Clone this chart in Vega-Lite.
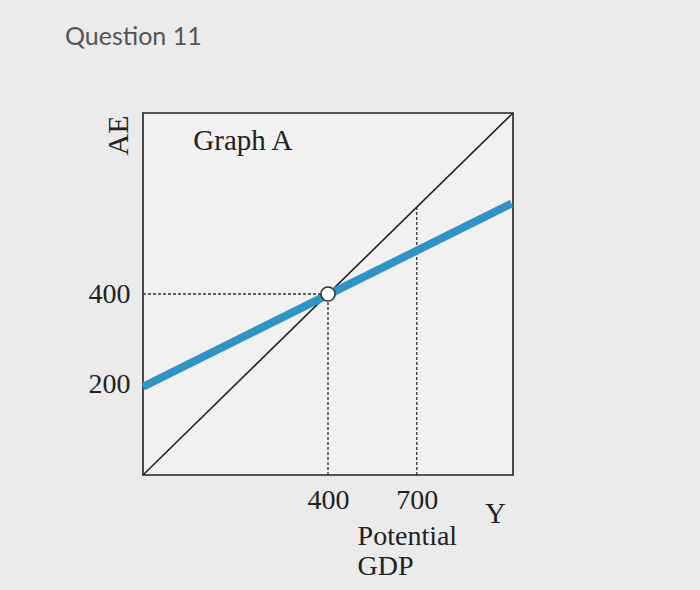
{
  "$schema": "https://vega.github.io/schema/vega-lite/v6.json",
  "autosize": "none",
  "width": 370,
  "height": 362,
  "padding": {"left": 143, "top": 113, "right": 187, "bottom": 115},
  "background": "#ebebeb",
  "title": {
    "text": "Question 11",
    "anchor": "start",
    "frame": "group",
    "dx": -78,
    "offset": 60,
    "font": "Lato",
    "fontSize": 25,
    "fontWeight": "normal",
    "color": "#555555"
  },
  "datasets": {
    "curves": [
      {"series": "45-degree", "x": -225, "y": 0},
      {"series": "45-degree", "x": 1025, "y": 800},
      {"series": "AE", "x": -225, "y": 195},
      {"series": "AE", "x": 1020, "y": 600}
    ],
    "guides": [
      {"x": -225, "y": 400, "x2": 400, "y2": 400},
      {"x": 400, "y": 0, "x2": 400, "y2": 400},
      {"x": 700, "y": 0, "x2": 700, "y2": 592}
    ],
    "equilibrium": [{"x": 400, "y": 400}],
    "notes": [
      {"x": -55, "y": 770, "label": "Graph A", "size": 29},
      {"x": 500, "y": -107, "label": "Potential\nGDP", "size": 28}
    ]
  },
  "layer": [
    {
      "data": {"name": "guides"},
      "mark": {"type": "rule", "strokeDash": [3, 2], "strokeWidth": 1.3, "color": "#333333"},
      "encoding": {
        "x": {"field": "x", "type": "quantitative"},
        "y": {"field": "y", "type": "quantitative"},
        "x2": {"field": "x2"},
        "y2": {"field": "y2"}
      }
    },
    {
      "data": {"name": "curves"},
      "transform": [{"filter": "datum.series == '45-degree'"}],
      "mark": {"type": "line", "color": "#222222", "strokeWidth": 1.6},
      "encoding": {
        "x": {"field": "x", "type": "quantitative"},
        "y": {"field": "y", "type": "quantitative"}
      }
    },
    {
      "data": {"name": "curves"},
      "transform": [{"filter": "datum.series == 'AE'"}],
      "mark": {"type": "line", "color": "#2f93c6", "strokeWidth": 8},
      "encoding": {
        "x": {"field": "x", "type": "quantitative"},
        "y": {"field": "y", "type": "quantitative"}
      }
    },
    {
      "data": {"name": "equilibrium"},
      "mark": {"type": "point", "filled": true, "fill": "white", "stroke": "#333333", "strokeWidth": 1.6, "size": 200, "opacity": 1},
      "encoding": {
        "x": {"field": "x", "type": "quantitative"},
        "y": {"field": "y", "type": "quantitative"}
      }
    },
    {
      "data": {"name": "notes"},
      "mark": {"type": "text", "align": "left", "baseline": "top", "font": "Liberation Serif", "color": "#222222", "lineBreak": "\n", "lineHeight": 30},
      "encoding": {
        "x": {"field": "x", "type": "quantitative"},
        "y": {"field": "y", "type": "quantitative"},
        "text": {"field": "label"},
        "size": {"field": "size", "type": "quantitative", "scale": null}
      }
    }
  ],
  "encoding": {
    "x": {
      "type": "quantitative",
      "scale": {"domain": [-225, 1025], "nice": false, "zero": false},
      "axis": {
        "values": [400, 700],
        "ticks": false,
        "domain": false,
        "grid": false,
        "labelPadding": 11,
        "title": "Y",
        "titleX": 352,
        "titleY": 38,
        "titleAlign": "center",
        "titleBaseline": "middle",
        "titleFontSize": 29,
        "titleFontWeight": "normal"
      }
    },
    "y": {
      "type": "quantitative",
      "scale": {"domain": [0, 800], "nice": false, "zero": false},
      "axis": {
        "values": [200, 400],
        "ticks": false,
        "domain": false,
        "grid": false,
        "labelPadding": 13,
        "title": "AE",
        "titleAngle": 270,
        "titleX": -25,
        "titleY": 22,
        "titleAlign": "center",
        "titleBaseline": "middle",
        "titleFontSize": 30,
        "titleFontWeight": "normal"
      }
    }
  },
  "config": {
    "view": {"fill": "#f1f1f1", "stroke": "#222222", "strokeWidth": 1.6},
    "axis": {
      "labelFont": "Liberation Serif",
      "labelFontSize": 28,
      "labelColor": "#222222",
      "titleFont": "Liberation Serif",
      "titleColor": "#222222"
    }
  }
}
